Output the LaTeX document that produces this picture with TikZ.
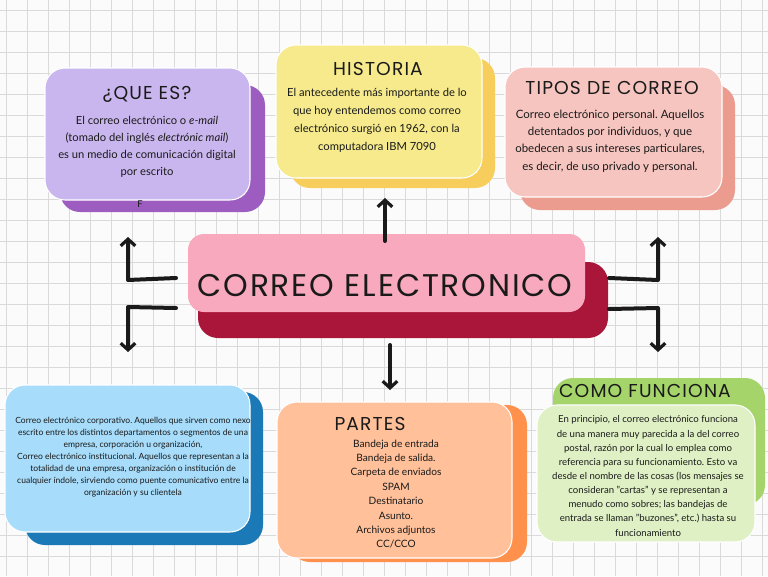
\documentclass[tikz,border=0pt]{standalone}
\usepackage{fontspec}
\setmainfont{Lato}
\newfontfamily\titlefont[LetterSpace=6]{Poppins}
\usetikzlibrary{arrows.meta}
\frenchspacing
\definecolor{bgcol}{HTML}{FBFBFB}
\definecolor{gridcol}{HTML}{DADADA}
\definecolor{purpL}{HTML}{C9B6EE}
\definecolor{purpD}{HTML}{9C5CC0}
\definecolor{yelL}{HTML}{F6EA8C}
\definecolor{yelD}{HTML}{F7CE5C}
\definecolor{rosL}{HTML}{F6C5C0}
\definecolor{rosD}{HTML}{EB9C8E}
\definecolor{cenL}{HTML}{F9A9BD}
\definecolor{cenD}{HTML}{A9163A}
\definecolor{bluL}{HTML}{A7DCFA}
\definecolor{bluD}{HTML}{1B79B7}
\definecolor{oraL}{HTML}{FFC09A}
\definecolor{oraD}{HTML}{FF914D}
\definecolor{grnD}{HTML}{A5D46A}
\definecolor{grnL}{HTML}{DFF0C4}
\definecolor{ink}{HTML}{1A1A1A}
\tikzset{
  boxshape/.style={rounded corners=15pt, inner sep=0pt, draw=none},
  lightbox/.style={boxshape, draw=white, line width=0.8pt},
  ttl/.style={font=\titlefont\fontsize{14}{16}\selectfont, text=ink, inner sep=0pt},
  bodytxt/.style={align=center, text=ink, inner sep=0pt},
  arr/.style={line width=3pt, line cap=round, line join=round, draw=ink,
    -{Straight Barb[length=5pt,width=11pt,line width=2.4pt]}},
  gridline/.style={draw=gridcol, line width=0.5pt}
}
\begin{document}
\frenchspacing
\begin{tikzpicture}[x=0.75pt,y=-0.75pt]
\useasboundingbox (0,0) rectangle (768,576);
\fill[bgcol] (0,0) rectangle (768,576);
\foreach \i in {0,...,36} \draw[gridline] ({6+21*\i},0) -- ({6+21*\i},576);
\foreach \j in {0,...,27} \draw[gridline] (0,{10+21*\j}) -- (768,{10+21*\j});

% ---- QUE ES
\node[boxshape, fill=purpD, minimum width=153.75pt, minimum height=95.25pt] (queD) at (162.5,148.5) {};
\node[lightbox, fill=purpL, minimum width=153.75pt, minimum height=99pt] (queL) at (147.5,134) {};
\node[ttl] (queT) at (147,94) {¿QUE ES?};
\node[bodytxt, font=\fontsize{8.4}{12.75}\selectfont] (queB) at (147,147)
  {El correo electrónico o \textit{e-mail}\\(tomado del inglés \textit{electrónic mail})\\es un medio de comunicación digital\\por escrito};
\node[bodytxt, font=\fontsize{7}{8}\selectfont] (queF) at (140,204) {F};

% ---- HISTORIA
\node[boxshape, fill=yelD, minimum width=153.75pt, minimum height=97.5pt] (hisD) at (392.5,123) {};
\node[lightbox, fill=yelL, minimum width=154.5pt, minimum height=99.75pt] (hisL) at (379,111.5) {};
\node[ttl] (hisT) at (378,69) {HISTORIA};
\node[bodytxt, font=\fontsize{8.4}{13.5}\selectfont] (hisB) at (377,120)
  {El antecedente más importante de lo\\que hoy entendemos como correo\\electrónico surgió en 1962, con la\\computadora IBM 7090};

% ---- TIPOS DE CORREO
\node[boxshape, fill=rosD, minimum width=161.25pt, minimum height=93.75pt] (tipD) at (627.5,147.5) {};
\node[lightbox, fill=rosL, minimum width=162.75pt, minimum height=97.5pt] (tipL) at (613.5,132) {};
\node[ttl] (tipT) at (612,88) {TIPOS DE CORREO};
\node[bodytxt, font=\fontsize{8.6}{13}\selectfont] (tipB) at (610,141)
  {Correo electrónico personal. Aquellos\\detentados por individuos, y que\\obedecen a sus intereses particulares,\\es decir, de uso privado y personal.};

% ---- CENTER
\node[boxshape, fill=cenD, minimum width=307.5pt, minimum height=57pt] (cenD) at (403,300) {};
\node[boxshape, rounded corners=12pt, fill=cenL, minimum width=297.75pt, minimum height=58.5pt] (cenL) at (386.5,273) {};
\node[inner sep=0pt, text=ink, font=\titlefont\fontsize{23.5}{25}\selectfont] (cenT) at (385,286) {CORREO ELECTRONICO};

% ---- BLUE
\node[boxshape, fill=bluD, minimum width=178.5pt, minimum height=114.75pt] (bluD) at (144,468.5) {};
\node[lightbox, fill=bluL, minimum width=183.75pt, minimum height=110.25pt] (bluL) at (127.5,458.5) {};
\node[bodytxt, font=\fontsize{6.4}{9}\selectfont] (bluB) at (133,457)
  {Correo electrónico corporativo. Aquellos que sirven como nexo\\escrito entre los distintos departamentos o segmentos de una\\empresa, corporación u organización,\\Correo electrónico institucional. Aquellos que representan a la\\totalidad de una empresa, organización o institución de\\cualquier índole, sirviendo como puente comunicativo entre la\\organización y su clientela};

% ---- PARTES
\node[boxshape, fill=oraD, minimum width=177.75pt, minimum height=117.75pt] (parD) at (408.5,483.5) {};
\node[lightbox, fill=oraL, minimum width=176.25pt, minimum height=117pt] (parL) at (394.5,480) {};
\node[ttl] (parT) at (370,424) {PARTES};
\node[bodytxt, font=\fontsize{7.6}{10.8}\selectfont] (parB) at (396,494)
  {Bandeja de entrada\\Bandeja de salida.\\Carpeta de enviados\\SPAM\\Destinatario\\Asunto.\\Archivos adjuntos\\CC/CCO};

% ---- COMO FUNCIONA
\node[boxshape, fill=grnD, minimum width=159pt, minimum height=95.25pt] (comD) at (659,441.5) {};
\node[lightbox, fill=grnL, minimum width=163.5pt, minimum height=102.75pt] (comL) at (646,473.5) {};
\node[ttl] (comT) at (645,391) {COMO FUNCIONA};
\node[bodytxt, font=\fontsize{7.2}{10.6}\selectfont] (comB) at (648,476)
  {En principio, el correo electrónico funciona\\de una manera muy parecida a la del correo\\postal, razón por la cual lo emplea como\\referencia para su funcionamiento. Esto va\\desde el nombre de las cosas (los mensajes se\\consideran "cartas" y se representan a\\menudo como sobres; las bandejas de\\entrada se llaman "buzones", etc.) hasta su\\funcionamiento};

% ---- ARROWS
\coordinate (tA) at (385,241);
\coordinate (tB) at (385,198);
\coordinate (bA) at (390,345);
\coordinate (bB) at (390,390);
\coordinate (l1a) at (176,278);
\coordinate (l1b) at (128,280);
\coordinate (l1c) at (128,237);
\coordinate (l2a) at (176,308);
\coordinate (l2b) at (128,307);
\coordinate (l2c) at (128,352);
\coordinate (r1a) at (609,278);
\coordinate (r1b) at (658,280);
\coordinate (r1c) at (658,237);
\coordinate (r2a) at (609,309);
\coordinate (r2b) at (658,308);
\coordinate (r2c) at (658,352);
\draw[arr] (tA) -- (tB);
\draw[arr] (bA) -- (bB);
\draw[arr] (l1a) -- (l1b) -- (l1c);
\draw[arr] (l2a) -- (l2b) -- (l2c);
\draw[arr] (r1a) -- (r1b) -- (r1c);
\draw[arr] (r2a) -- (r2b) -- (r2c);
\end{tikzpicture}
\end{document}
